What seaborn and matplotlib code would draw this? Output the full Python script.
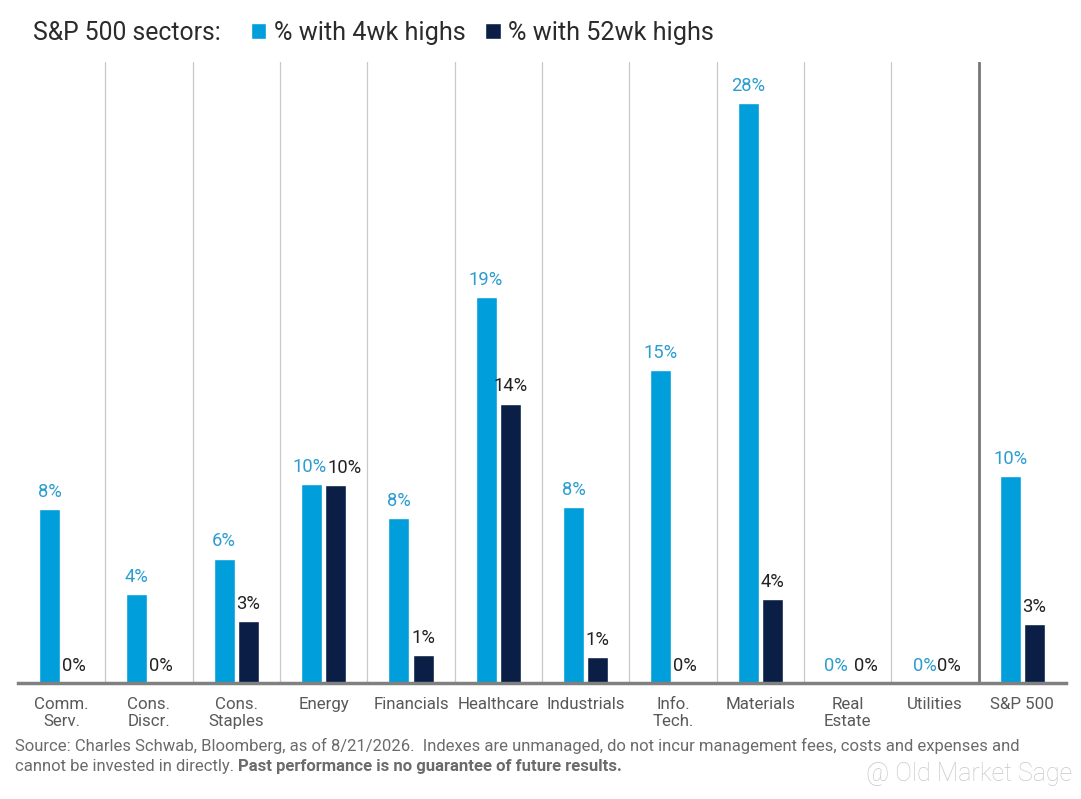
import pandas as pd
import matplotlib.pyplot as plt
import seaborn as sns
from matplotlib.patches import Patch

# 데이터
sectors = ["Comm.\nServ.", "Cons.\nDiscr.", "Cons.\nStaples", "Energy", "Financials",
           "Healthcare", "Industrials", "Info.\nTech.", "Materials", "Real\nEstate",
           "Utilities", "S&P 500"]
wk4 = [8.4, 4.3, 6.0, 9.6, 7.95, 18.65, 8.5, 15.1, 28.0, 0, 0, 10.0]
wk52 = [0, 0, 3.0, 9.55, 1.35, 13.5, 1.25, 0, 4.05, 0, 0, 2.85]
labels4 = ["8%", "4%", "6%", "10%", "8%", "19%", "8%", "15%", "28%", "0%", "0%", "10%"]
labels52 = ["0%", "0%", "3%", "10%", "1%", "14%", "1%", "0%", "4%", "0%", "0%", "3%"]
series = ["% with 4wk highs", "% with 52wk highs"]

blue = "#009FDB"
navy = "#0B1E45"

df = pd.DataFrame({
    "sector": sectors * 2,
    "series": [series[0]] * len(sectors) + [series[1]] * len(sectors),
    "value": wk4 + wk52,
})

sns.set_theme(style="white")
plt.rcParams["font.family"] = ["Roboto", "DejaVu Sans"]

fig = plt.figure(figsize=(10.81, 7.99), dpi=100)
ax = fig.add_axes([18 / 1081, 116 / 799, 1048 / 1081, 621 / 799])

sns.barplot(data=df, x="sector", y="value", hue="series", palette=[blue, navy],
            width=0.56, gap=0.14, saturation=1, legend=False, ax=ax)

ax.set_xlim(-0.5, 11.5)
ax.set_ylim(0, 30)

# 값 라벨
lab4 = ax.bar_label(ax.containers[0], labels=labels4, padding=6, color="#2C9DCF", fontsize=13.2)
lab52 = ax.bar_label(ax.containers[1], labels=labels52, padding=6, color="#222222", fontsize=13.2)
# 라벨 위치 미세조정 (Energy, Real Estate, Utilities)
lab4[3].xyann = (-1, 6)
lab52[3].xyann = (6, 6)
lab52[9].xyann = (4.5, 6)
lab4[10].xyann = (1.5, 6)
lab52[10].xyann = (1.5, 6)

# 구분선
for i in range(11):
    x = i + 0.5
    if i == 10:
        ax.axvline(x, color="#777777", lw=2, zorder=0)
    else:
        ax.axvline(x, color="#c8c8c8", lw=0.9, zorder=0)

# 축
for s in ["top", "left", "right"]:
    ax.spines[s].set_visible(False)
ax.spines["bottom"].set_color("#808080")
ax.spines["bottom"].set_linewidth(2.5)
ax.set_yticks([])
ax.set_xlabel("")
ax.set_ylabel("")
ax.set_xticks(range(12))
ax.set_xticklabels(sectors, fontsize=12.2, color="#595959", linespacing=1.2)
ax.tick_params(axis="x", which="major", length=0, pad=10)
ax.set_xticks([i - 0.5 for i in range(13)], minor=True)
ax.tick_params(axis="x", which="minor", length=5, width=2, color="#808080", direction="out")

# 제목 + 범례
fig.text(33 / 1081, 1 - 33 / 799, "S&P 500 sectors:", fontsize=17.8, color="#2b2b2b", va="center")
handles = [Patch(facecolor=blue, label=series[0]), Patch(facecolor=navy, label=series[1])]
fig.legend(handles=handles, loc="center left", bbox_to_anchor=(228 / 1081, 1 - 33 / 799),
           ncol=2, frameon=False, fontsize=18.2, handlelength=0.6, handleheight=0.6,
           handletextpad=0.3, columnspacing=0.8, labelcolor="#2b2b2b")

# 출처
fs = 12
fig.text(15 / 1081, 1 - 746 / 799,
         "Source: Charles Schwab, Bloomberg, as of 8/21/2026.  Indexes are unmanaged, do not incur management fees, costs and expenses and",
         fontsize=fs, color="#6b6b6b", va="center")
t = fig.text(15 / 1081, 1 - 767 / 799, "cannot be invested in directly. ",
             fontsize=fs, color="#6b6b6b", va="center")
fig.canvas.draw()
bb = t.get_window_extent()
fig.text(bb.x1 / fig.bbox.width, 1 - 767 / 799,
         "Past performance is no guarantee of future results.",
         fontsize=fs, color="#6b6b6b", va="center", fontweight="bold")

fig.text(1072 / 1081, 1 - 774 / 799, "@ Old Market Sage", fontsize=18, color="#c8c8c8",
         ha="right", va="center", fontweight="light")

fig.savefig("out.png", dpi=100)
